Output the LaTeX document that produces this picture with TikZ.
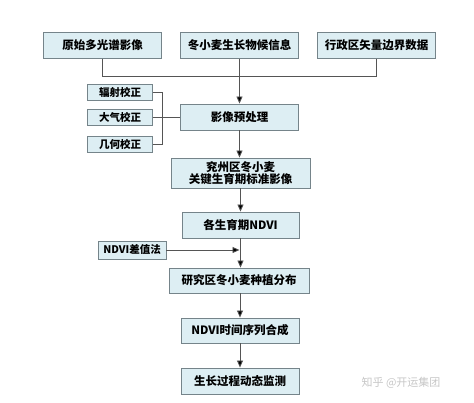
\documentclass[tikz,border=0pt]{standalone}
\usepackage{fontspec}
\setmainfont{Noto Sans CJK SC}
\newfontfamily\cjk{Noto Sans CJK SC}
\usetikzlibrary{arrows.meta,positioning}
\definecolor{boxfill}{HTML}{DDEEF3}
\definecolor{boxline}{HTML}{75848A}
\definecolor{conn}{HTML}{555555}
\begin{document}
\begin{tikzpicture}[x=1pt,y=-1pt,
  mainbox/.style={draw=boxline,fill=boxfill,line width=0.9pt,inner sep=0pt,font=\cjk\bfseries\fontsize{11.5}{14}\selectfont,align=center},
  smallbox/.style={draw=boxline,fill=boxfill,line width=0.9pt,inner sep=0pt,font=\cjk\bfseries\fontsize{10.5}{12}\selectfont},
  conline/.style={draw=conn,line width=0.8pt},
  arr/.style={conline,-{Triangle[length=7pt,width=6pt,fill=black]}}]
\useasboundingbox (0,0) rectangle (474,403);
\fill[white] (0,0) rectangle (474,403);
% top row
\node[mainbox,minimum width=118pt,minimum height=26pt] (src1) at (102.5,45.5) {原始多光谱影像};
\node[mainbox,minimum width=118pt,minimum height=26pt] (src2) at (239.5,45.5) {冬小麦生长物候信息};
\node[mainbox,minimum width=118pt,minimum height=26pt] (src3) at (376.5,45.5) {行政区矢量边界数据};
% preprocessing
\node[mainbox,minimum width=118pt,minimum height=26pt] (pre) at (239.5,117) {影像预处理};
\node[smallbox,minimum width=65pt,minimum height=16pt] (rad) at (120,92) {辐射校正};
\node[smallbox,minimum width=65pt,minimum height=16pt] (atm) at (120,117) {大气校正};
\node[smallbox,minimum width=65pt,minimum height=16pt] (geo) at (120,144) {几何校正};
% rest of chain
\node[mainbox,minimum width=139pt,minimum height=30pt] (std) at (240.5,173) {兖州区冬小麦\\[-2pt]关键生育期标准影像};
\node[mainbox,minimum width=117pt,minimum height=26pt] (ndvi) at (240.5,225) {各生育期NDVI};
\node[smallbox,minimum width=68pt,minimum height=18pt] (diff) at (132,250) {NDVI差值法};
\node[mainbox,minimum width=140pt,minimum height=25pt] (dist) at (239,280.5) {研究区冬小麦种植分布};
\node[mainbox,minimum width=118pt,minimum height=25pt] (ts) at (240,330.5) {NDVI时间序列合成};
\node[mainbox,minimum width=118pt,minimum height=26pt] (mon) at (240,381) {生长过程动态监测};
% connectors top
\coordinate (j1) at (src1.south |- 0,76);
\coordinate (j3) at (src3.south |- 0,76);
\draw[conline] (src1.south) -- (j1) -- (j3) -- (src3.south);
\draw[arr] (src2.south) -- (pre.north);
% bracket
\coordinate (b1) at (162,92);
\coordinate (b2) at (162,144);
\draw[conline] (rad.east) -- (b1) -- (b2) -- (geo.east);
\draw[conline] (atm.east) -- (pre.west);
% chain
\draw[arr] (pre.south) -- (std.north -| pre.south);
\draw[arr] (std.south -| ndvi.north) -- (ndvi.north);
\draw[arr] (ndvi.south) -- (dist.north -| ndvi.south);
\coordinate (dj) at (ndvi.south |- diff.east);
\draw[arr] (diff.east) -- ([xshift=-1pt]dj);
\draw[arr] (dist.south -| ts.north) -- (ts.north);
\draw[arr] (ts.south) -- (mon.north);
% watermark
\node[font=\cjk\fontsize{11}{13}\selectfont,text=black!22,anchor=west] (wm) at (358,383) {知乎 @开运集团};
\end{tikzpicture}
\end{document}
